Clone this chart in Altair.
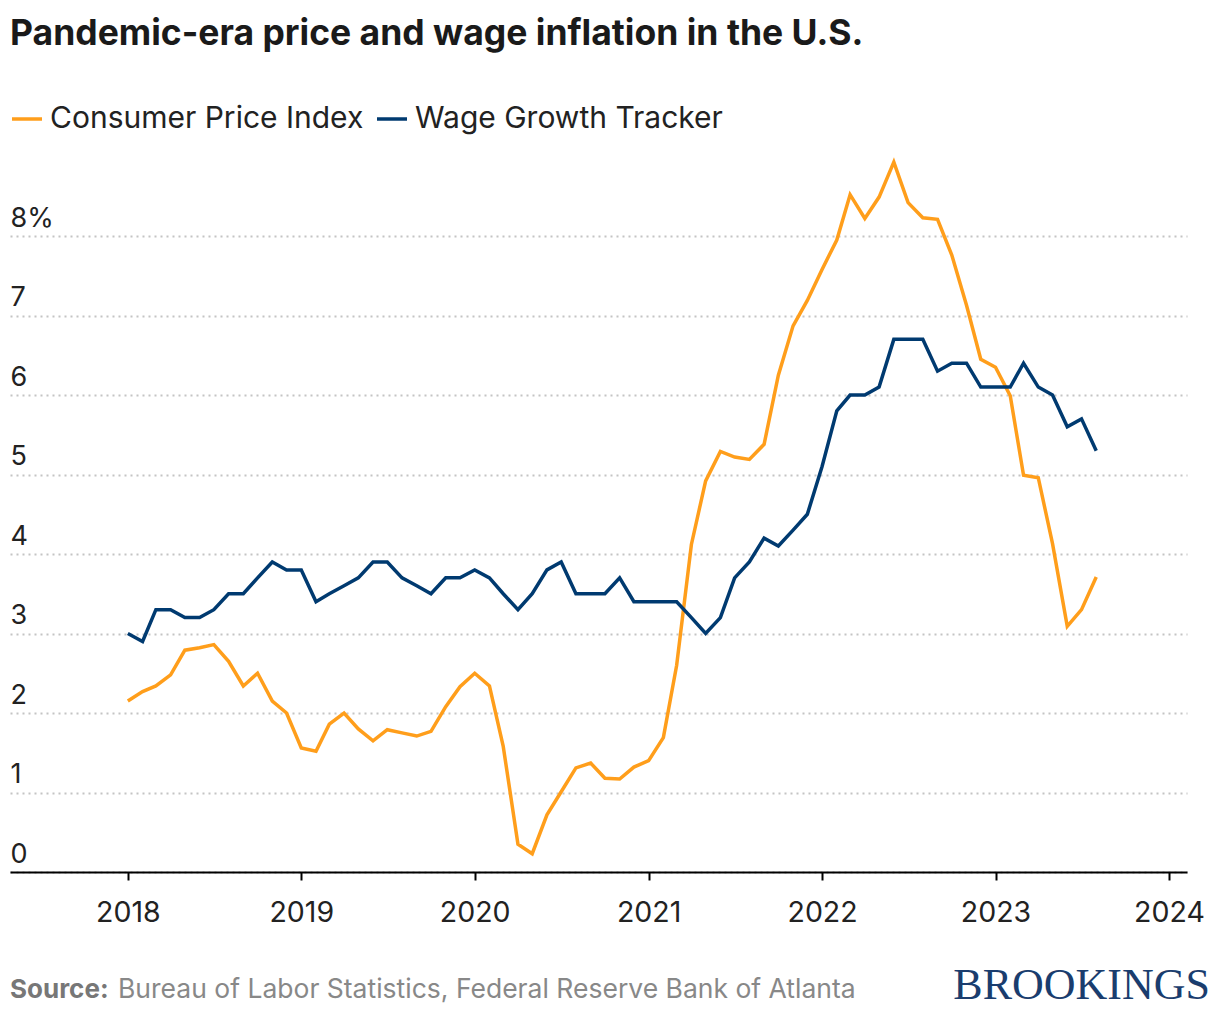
import altair as alt
import pandas as pd

# Monthly observations, Jan 2018 .. Aug 2023
start_month = "2018-01-01"
n_months = 68

cpi = [2.15, 2.27, 2.34, 2.48, 2.79, 2.82, 2.86, 2.65, 2.34, 2.50, 2.15, 2.00,
       1.56, 1.52, 1.86, 2.00, 1.80, 1.65, 1.79, 1.75, 1.71, 1.77, 2.08, 2.33,
       2.50, 2.34, 1.58, 0.35, 0.23, 0.72, 1.01, 1.31, 1.37, 1.18, 1.17, 1.32,
       1.40, 1.69, 2.60, 4.12, 4.92, 5.29, 5.22, 5.19, 5.38, 6.25, 6.87, 7.19,
       7.58, 7.95, 8.52, 8.22, 8.49, 8.93, 8.42, 8.23, 8.21, 7.76, 7.13, 6.45,
       6.35, 5.99, 4.99, 4.96, 4.13, 3.09, 3.30, 3.71]

wage = [3.0, 2.9, 3.3, 3.3, 3.2, 3.2, 3.3, 3.5, 3.5, 3.7, 3.9, 3.8,
        3.8, 3.4, 3.5, 3.6, 3.7, 3.9, 3.9, 3.7, 3.6, 3.5, 3.7, 3.7,
        3.8, 3.7, 3.5, 3.3, 3.5, 3.8, 3.9, 3.5, 3.5, 3.5, 3.7, 3.4,
        3.4, 3.4, 3.4, 3.2, 3.0, 3.2, 3.7, 3.9, 4.2, 4.1, 4.3, 4.5,
        5.1, 5.8, 6.0, 6.0, 6.1, 6.7, 6.7, 6.7, 6.3, 6.4, 6.4, 6.1,
        6.1, 6.1, 6.4, 6.1, 6.0, 5.6, 5.7, 5.3]

series_names = ["Consumer Price Index", "Wage Growth Tracker"]
series_colors = ["#FF9E1B", "#003A70"]
year_ticks = [2018, 2019, 2020, 2021, 2022, 2023, 2024]
y_ticks = [0, 1, 2, 3, 4, 5, 6, 7, 8]

title_text = "Pandemic-era price and wage inflation in the U.S."
source_label = "Source:"
source_text = "Bureau of Labor Statistics, Federal Reserve Bank of Atlanta"
logo_text = "BROOKINGS"

FONT = "Inter"

months = pd.date_range(start_month, periods=n_months, freq="MS").strftime("%Y/%m/%d")
df = pd.concat([
    pd.DataFrame({"date": months, "value": cpi, "series": series_names[0]}),
    pd.DataFrame({"date": months, "value": wage, "series": series_names[1]}),
])

W, H = 1177, 722

x_enc = alt.X(
    "date:T",
    scale=alt.Scale(domain=[alt.DateTime(year=2017, month=4, date=28),
                            alt.DateTime(year=2024, month=2, date=8)]),
    axis=alt.Axis(
        values=[alt.DateTime(year=y, month=1, date=1) for y in year_ticks],
        format="%Y", title=None, grid=False,
        domain=True, domainColor="#000000", domainWidth=2,
        ticks=True, tickColor="#000000", tickWidth=2, tickSize=8,
        labelFont=FONT, labelFontSize=28.5, labelColor="#222222",
        labelPadding=18, labelBaseline="top",
    ),
)

y_enc = alt.Y(
    "value:Q",
    scale=alt.Scale(domain=[0, 9.082], nice=False, zero=True),
    axis=alt.Axis(
        values=y_ticks, title=None, domain=False, ticks=False,
        grid=True, gridColor="#c4c4c4", gridDash=[2, 4], gridWidth=2,
        labelFont=FONT, labelFontSize=27, labelColor="#222222",
        labelAlign="left", labelBaseline="alphabetic", labelPadding=0,
        labelOffset=-10,
        labelExpr="datum.value == 8 ? '8%' : datum.label",
    ),
)

lines = alt.Chart(df).mark_line(strokeWidth=3.5).encode(
    x=x_enc,
    y=y_enc,
    color=alt.Color(
        "series:N",
        scale=alt.Scale(domain=series_names, range=series_colors),
        legend=alt.Legend(
            title=None, orient="none", legendX=0, legendY=-48,
            direction="horizontal",
            symbolType="stroke", symbolStrokeWidth=3.5, symbolSize=900,
            labelFont=FONT, labelFontSize=30, labelColor="#222222",
            labelOffset=6, columnPadding=6, labelLimit=600,
        ),
    ),
    detail="series:N",
)

src_bold = alt.Chart(pd.DataFrame({"t": [source_label]})).mark_text(
    font=FONT, fontSize=26, fontWeight="bold", color="#777777",
    align="left", baseline="middle",
).encode(text="t:N", x=alt.value(0), y=alt.value(840))

src_rest = alt.Chart(pd.DataFrame({"t": [source_text]})).mark_text(
    font=FONT, fontSize=26.5, color="#888888",
    align="left", baseline="middle",
).encode(text="t:N", x=alt.value(108), y=alt.value(840))

logo = alt.Chart(pd.DataFrame({"t": [logo_text]})).mark_text(
    font="Liberation Serif", fontSize=44, color="#1a3d6e",
    align="right", baseline="alphabetic",
).encode(text="t:N", x=alt.value(1200), y=alt.value(849))

chart = alt.layer(lines, src_bold, src_rest, logo).properties(
    width=W, height=H,
    background="white",
    autosize=alt.AutoSizeParams(type="none"),
    padding={"left": 10, "top": 150, "right": 33, "bottom": 148},
    title=alt.TitleParams(
        text=title_text, anchor="start", frame="group",
        font=FONT, fontSize=35.5, fontWeight="bold", color="#1a1a1a",
        baseline="alphabetic", offset=22,
    ),
).configure_view(stroke=None)

chart.save("out.html", embed_options={"renderer": "svg", "actions": False})
